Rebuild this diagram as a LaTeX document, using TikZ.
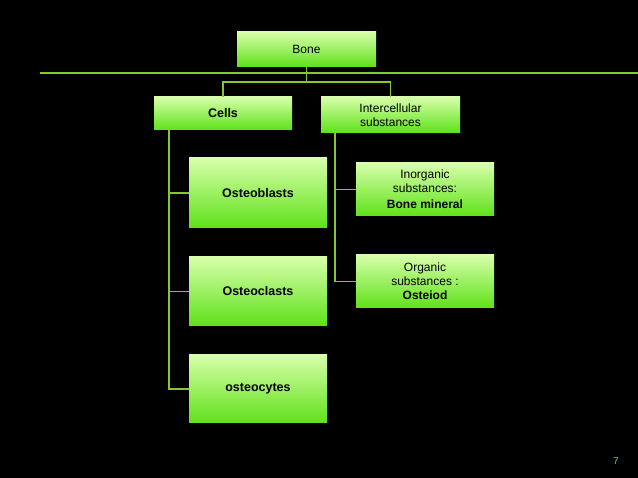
\documentclass[tikz,border=0pt]{standalone}
\usepackage{fontspec}
\setmainfont{Liberation Sans}
\begin{document}
\begin{tikzpicture}[x=1pt,y=-1pt,
  box/.style={draw=none,top color={rgb,255:red,215;green,255;blue,170},bottom color={rgb,255:red,95;green,225;blue,25},
    inner sep=0pt,align=center,font=\fontsize{12}{14}\selectfont,text=black},
  ln/.style={draw={rgb,255:red,130;green,200;blue,50},line width=1.2pt}]
\fill[black] (0,0) rectangle (638,478);
\useasboundingbox (0,0) rectangle (638,478);
\draw[ln] (40,73) -- (638,73);
\node[box,minimum width=139,minimum height=35] (bone) at (306.5,49.5) {Bone};
\node[box,minimum width=138,minimum height=33,font=\fontsize{12.5}{14}\selectfont\bfseries] (cells) at (223,113.5) {Cells};
\node[box,minimum width=139,minimum height=36] (inter) at (390.5,115) {Intercellular\\substances};
\node[box,minimum width=138,minimum height=70,font=\fontsize{12.5}{14}\selectfont\bfseries] (ob) at (258,193) {Osteoblasts};
\node[box,minimum width=138,minimum height=69,font=\fontsize{12.5}{14}\selectfont\bfseries] (oc) at (258,291.5) {Osteoclasts};
\node[box,minimum width=138,minimum height=68,font=\fontsize{12.5}{14}\selectfont\bfseries] (oy) at (258,389) {osteocytes};
\node[box,minimum width=138,minimum height=53] (inorg) at (425,189.5) {Inorganic\\substances:\\[2pt]\textbf{Bone mineral}};
\node[box,minimum width=138,minimum height=53] (org) at (425,281.5) {Organic\\substances :\\\textbf{Osteiod}};
\coordinate (j) at (306.5,82);
\draw[ln] (bone.south) -- (j);
\draw[ln] (cells.north) -- (223,82) -- (390.5,82) -- (inter.north);
\draw[ln] (169,130) |- (ob.west);
\draw[ln] (169,130) |- (oc.west);
\draw[ln] (169,130) |- (oy.west);
\draw[ln] (335,133) |- (inorg.west);
\draw[ln] (335,133) |- (org.west);
\node[text={rgb,255:red,120;green,200;blue,40},font=\fontsize{10}{12}\selectfont] (pg) at (616,461) {7};
\end{tikzpicture}
\end{document}
